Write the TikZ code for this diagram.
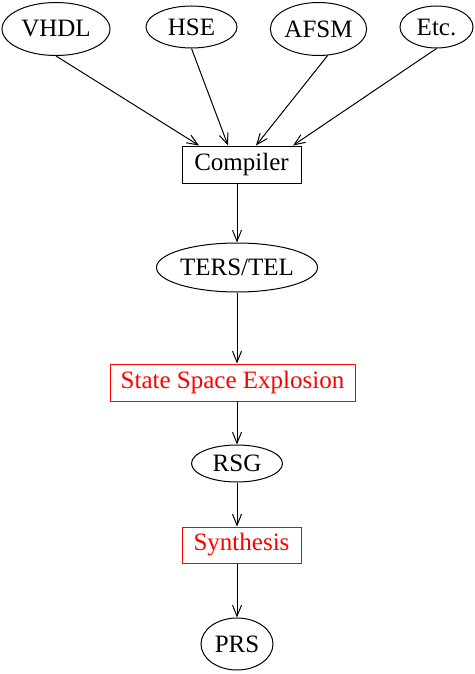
\documentclass[tikz,border=0pt]{standalone}
\usepackage{fontspec}
\setmainfont{Liberation Serif}
\usetikzlibrary{shapes.geometric,arrows.meta}
\begin{document}
\begin{tikzpicture}[x=1pt,y=-1pt,
  every node/.style={font=\fontsize{25}{28}\selectfont, inner sep=0pt},
  oval/.style={ellipse, draw=black, line width=1pt},
  blackbox/.style={rectangle, draw=black, line width=1pt},
  redbox/.style={rectangle, draw=red, text=red, line width=1pt},
  conn/.style={line width=1pt, -{Straight Barb[length=11pt,width=9pt]}}]
\useasboundingbox (0,0) rectangle (474,674);
\node[oval, minimum width=108pt, minimum height=53pt] (vhdl) at (56,29) {VHDL};
\node[oval, minimum width=91pt, minimum height=42pt] (hse) at (191.5,27) {HSE};
\node[oval, minimum width=91pt, minimum height=53pt] (afsm) at (318.5,29) {AFSM};
\node[oval, minimum width=73pt, minimum height=42pt] (etc) at (436.5,27) {Etc.};
\node[blackbox, minimum width=119pt, minimum height=37pt] (comp) at (241.5,164.5) {Compiler};
\node[oval, minimum width=146pt, minimum height=49pt] (ters) at (237,267.5) {TERS/TEL};
\node[redbox, minimum width=245pt, minimum height=37pt] (sse) at (232.5,382.5) {State Space Explosion};
\node[oval, minimum width=91pt, minimum height=37pt] (rsg) at (237,463.5) {RSG};
\node[redbox, minimum width=119pt, minimum height=36pt] (syn) at (241.5,545) {Synthesis};
\node[oval, minimum width=72pt, minimum height=52pt] (prs) at (237,644) {PRS};
\draw[conn] (vhdl.south) -- ([xshift=-42.5pt]comp.north);
\draw[conn] (hse.south) -- ([xshift=-13.5pt]comp.north);
\draw[conn] (afsm.-71) -- ([xshift=14.5pt]comp.north);
\draw[conn] (etc.south) -- ([xshift=51.5pt]comp.north);
\draw[conn] (comp.south -| ters.center) -- (ters.north);
\draw[conn] (ters.south) -- (sse.north -| ters.center);
\draw[conn] (sse.south -| ters.center) -- (rsg.north);
\draw[conn] (rsg.south) -- (syn.north -| rsg.center);
\draw[conn] (syn.south -| rsg.center) -- (prs.north);
\end{tikzpicture}
\end{document}
